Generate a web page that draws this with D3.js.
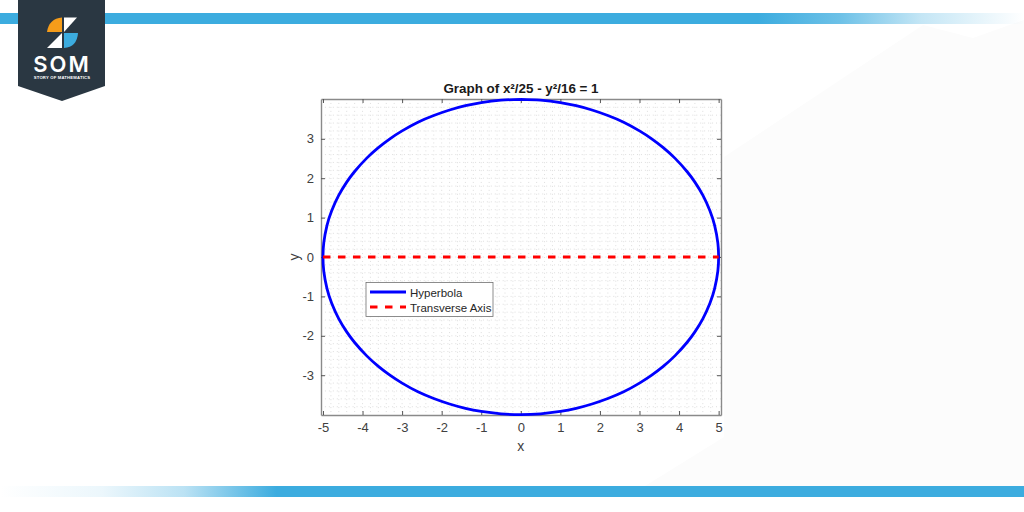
<!DOCTYPE html>
<html>
<head>
<meta charset="utf-8">
<script src="https://cdn.jsdelivr.net/npm/d3@7/dist/d3.min.js"></script>
<style>
  html, body { margin: 0; padding: 0; background: #fff; }
  svg { display: block; }
  text { font-family: "Liberation Sans", Arial, sans-serif; }
  .axis path { stroke: #8a8a8a; stroke-width: 1.4; }
  .axis line { stroke: #555; }
  .axis text { fill: #404040; font-size: 13px; }
</style>
</head>
<body>
<div id="chart"></div>
<script>
/* Values, clockwise from the top of the curve */
const curveX = [0, 0.5, 1, 1.4, 1.8, 2.2, 2.6, 3, 3.3, 3.6, 3.9, 4.2, 4.4, 4.6, 4.78, 4.9, 4.98,
  5, 4.98, 4.9, 4.78, 4.6, 4.4, 4.2, 3.9, 3.6, 3.3, 3, 2.6, 2.2, 1.8, 1.4, 1, 0.5,
  0, -0.5, -1, -1.4, -1.8, -2.2, -2.6, -3, -3.3, -3.6, -3.9, -4.2, -4.4, -4.6, -4.78, -4.9, -4.98,
  -5, -4.98, -4.9, -4.78, -4.6, -4.4, -4.2, -3.9, -3.6, -3.3, -3, -2.6, -2.2, -1.8, -1.4, -1, -0.5, 0];
const curveY = [4, 3.98, 3.92, 3.84, 3.73, 3.59, 3.42, 3.2, 3.005, 2.776, 2.503, 2.17, 1.9, 1.568, 1.173, 0.796, 0.358,
  0, -0.358, -0.796, -1.173, -1.568, -1.9, -2.17, -2.503, -2.776, -3.005, -3.2, -3.42, -3.59, -3.73, -3.84, -3.92, -3.98,
  -4, -3.98, -3.92, -3.84, -3.73, -3.59, -3.42, -3.2, -3.005, -2.776, -2.503, -2.17, -1.9, -1.568, -1.173, -0.796, -0.358,
  0, 0.358, 0.796, 1.173, 1.568, 1.9, 2.17, 2.503, 2.776, 3.005, 3.2, 3.42, 3.59, 3.73, 3.84, 3.92, 3.98, 4];
const axisLineX = [-5, 5];
const axisLineY = [0, 0];
const xTicks = [-5, -4, -3, -2, -1, 0, 1, 2, 3, 4, 5];
const yTicks = [-3, -2, -1, 0, 1, 2, 3];
const gridStepsX = [-4.8, -4.6, -4.4, -4.2, -4, -3.8, -3.6, -3.4, -3.2, -3, -2.8, -2.6, -2.4, -2.2, -2, -1.8, -1.6, -1.4, -1.2, -1, -0.8, -0.6, -0.4, -0.2, 0,
  0.2, 0.4, 0.6, 0.8, 1, 1.2, 1.4, 1.6, 1.8, 2, 2.2, 2.4, 2.6, 2.8, 3, 3.2, 3.4, 3.6, 3.8, 4, 4.2, 4.4, 4.6, 4.8];
const gridStepsY = [-3.8, -3.6, -3.4, -3.2, -3, -2.8, -2.6, -2.4, -2.2, -2, -1.8, -1.6, -1.4, -1.2, -1, -0.8, -0.6, -0.4, -0.2, 0,
  0.2, 0.4, 0.6, 0.8, 1, 1.2, 1.4, 1.6, 1.8, 2, 2.2, 2.4, 2.6, 2.8, 3, 3.2, 3.4, 3.6, 3.8];
const seriesNames = ['Hyperbola', 'Transverse Axis'];
const chartTitle = 'Graph of x\u00b2/25 - y\u00b2/16 = 1';

const width = 1024;
const height = 512;
const plot = {left: 321, right: 721, top: 99, bottom: 415};
const blue = '#0000ff';
const red = '#ff0000';
const dash = '7.5 7.5';

const svg = d3.select('#chart').append('svg')
    .attr('width', width)
    .attr('height', height)
    .attr('viewBox', `0 0 ${width} ${height}`);

/* Page backdrop */
const defs = svg.append('defs');

function addFade(id, stops) {
  const grad = defs.append('linearGradient').attr('id', id);
  stops.forEach(([offset, opacity]) => {
    grad.append('stop')
        .attr('offset', offset)
        .attr('stop-color', '#3cacdf')
        .attr('stop-opacity', opacity);
  });
}
addFade('fadeTop', [[0.74, 1], [0.82, 0.75], [0.9, 0.3], [1, 0]]);
addFade('fadeBottom', [[0, 0], [0.1, 0.1], [0.18, 0.35], [0.27, 1], [1, 1]]);

svg.append('rect').attr('width', width).attr('height', height).attr('fill', '#fff');
svg.append('path')
    .attr('d', 'M645,486 L724,437 L724,157 L923,25 L973,38 L1024,20 L1024,486 Z')
    .attr('fill', '#fcfcfc');
svg.append('rect').attr('x', 0).attr('y', 13).attr('width', width).attr('height', 11)
    .attr('fill', 'url(#fadeTop)');
svg.append('rect').attr('x', 0).attr('y', 486).attr('width', width).attr('height', 11)
    .attr('fill', 'url(#fadeBottom)');

/* Logo */
const logo = svg.append('g');
logo.append('path').attr('d', 'M18,0 L105,0 L105,86 L62,101 L18,86 Z').attr('fill', '#2a3742');
logo.append('path').attr('d', 'M62,17.5 L62,32 L47,32 Q49,18.5 62,17.5 Z').attr('fill', '#f59c1a');
logo.append('path').attr('d', 'M64,17.5 L77,17.5 L64,32 Z').attr('fill', '#fff');
logo.append('path').attr('d', 'M64,33 L78,33 Q77,47 64,48 Z').attr('fill', '#3cacdf');
logo.append('path').attr('d', 'M62,33 L62,48 L47,48 Z').attr('fill', '#fff');
logo.append('text')
    .attr('x', 62).attr('y', 71.5)
    .attr('text-anchor', 'middle')
    .style('font-family', 'Inter, sans-serif')
    .attr('font-size', 22).attr('font-weight', 600)
    .attr('letter-spacing', 2)
    .attr('fill', '#fff')
    .text('SOM');
logo.append('text')
    .attr('x', 62).attr('y', 79)
    .attr('text-anchor', 'middle')
    .attr('font-size', 4.2).attr('font-weight', 700)
    .attr('letter-spacing', 0.2)
    .attr('fill', '#fff')
    .text('STORY OF MATHEMATICS');

/* Scales */
const x = d3.scaleLinear().domain([-5.05, 5.06]).range([plot.left, plot.right]);
const y = d3.scaleLinear().domain([-4.01, 4.01]).range([plot.bottom, plot.top]);

svg.append('rect')
    .attr('x', plot.left).attr('y', plot.top)
    .attr('width', plot.right - plot.left)
    .attr('height', plot.bottom - plot.top)
    .attr('fill', '#fff');

/* Dotted grid */
const grid = svg.append('g')
    .attr('fill', 'none')
    .attr('stroke', '#d6d6d6')
    .attr('stroke-width', 0.8)
    .attr('stroke-dasharray', '1 2.95');
grid.selectAll('.gx').data(gridStepsX).join('line')
    .attr('class', 'gx')
    .attr('x1', d => x(d)).attr('x2', d => x(d))
    .attr('y1', plot.top).attr('y2', plot.bottom);
grid.selectAll('.gy').data(gridStepsY).join('line')
    .attr('class', 'gy')
    .attr('y1', d => y(d)).attr('y2', d => y(d))
    .attr('x1', plot.left).attr('x2', plot.right);

/* Series */
const curvePoints = curveX.map((d, i) => [d, curveY[i]]);
const linePoints = axisLineX.map((d, i) => [d, axisLineY[i]]);
const smoothLine = d3.line().x(d => x(d[0])).y(d => y(d[1])).curve(d3.curveNatural);
const straightLine = d3.line().x(d => x(d[0])).y(d => y(d[1]));

/* Axes */
function drawAxis(axis, translate) {
  const g = svg.append('g').attr('class', 'axis').attr('transform', translate).call(axis);
  g.selectAll('text').style('font-family', '"Liberation Sans", Arial, sans-serif');
  return g;
}
const fmt = d => String(d);
drawAxis(d3.axisBottom(x).tickValues(xTicks).tickFormat(fmt).tickSizeInner(-4).tickSizeOuter(0).tickPadding(8),
    `translate(0,${plot.bottom})`);
drawAxis(d3.axisLeft(y).tickValues(yTicks).tickFormat(fmt).tickSizeInner(-4).tickSizeOuter(0).tickPadding(7),
    `translate(${plot.left},0)`);
drawAxis(d3.axisTop(x).tickValues(xTicks).tickFormat('').tickSizeInner(-4).tickSizeOuter(0),
    `translate(0,${plot.top})`);
drawAxis(d3.axisRight(y).tickValues(yTicks).tickFormat('').tickSizeInner(-4).tickSizeOuter(0),
    `translate(${plot.right},0)`);

svg.append('path')
    .attr('d', smoothLine(curvePoints))
    .attr('fill', 'none')
    .attr('stroke', blue)
    .attr('stroke-width', 2.8);
svg.append('path')
    .attr('d', straightLine(linePoints))
    .attr('fill', 'none')
    .attr('stroke', red)
    .attr('stroke-width', 2.8)
    .attr('stroke-dasharray', dash);

/* Labels */
svg.append('text')
    .attr('x', (plot.left + plot.right) / 2).attr('y', 93)
    .attr('text-anchor', 'middle')
    .attr('font-size', 13.4).attr('font-weight', 700)
    .attr('fill', '#1a1a1a')
    .text(chartTitle);
svg.append('text')
    .attr('x', x(0)).attr('y', 451)
    .attr('text-anchor', 'middle')
    .attr('font-size', 14)
    .attr('fill', '#404040')
    .text('x');
svg.append('text')
    .attr('transform', `translate(298.5,${y(0)}) rotate(-90)`)
    .attr('text-anchor', 'middle')
    .attr('font-size', 14)
    .attr('fill', '#404040')
    .text('y');

/* Legend */
const legend = svg.append('g').attr('transform', 'translate(366,282.5)');
legend.append('rect')
    .attr('width', 127).attr('height', 34)
    .attr('fill', '#fff')
    .attr('stroke', '#707070')
    .attr('stroke-width', 0.8);
const rows = legend.selectAll('g').data(seriesNames).join('g')
    .attr('transform', (d, i) => `translate(0,${9.5 + i * 15})`);
rows.append('line')
    .attr('x1', 4).attr('x2', 40)
    .attr('stroke', (d, i) => i ? red : blue)
    .attr('stroke-width', 2.8)
    .attr('stroke-dasharray', (d, i) => i ? dash : null);
rows.append('text')
    .attr('x', 44).attr('y', 4.5)
    .attr('font-size', 11.5)
    .attr('fill', '#262626')
    .text(d => d);
</script>
</body>
</html>
